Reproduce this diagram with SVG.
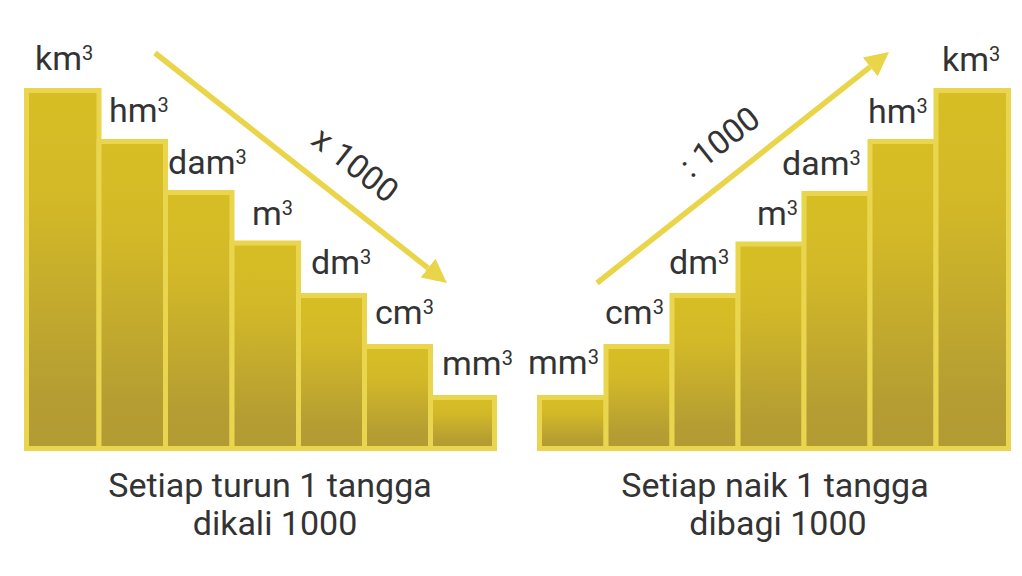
<svg xmlns="http://www.w3.org/2000/svg" width="1022" height="576" viewBox="0 0 1022 576">
<defs>
<linearGradient id="g" x1="0" y1="0" x2="0" y2="1">
<stop offset="0" stop-color="#D8BE24"/>
<stop offset="0.3" stop-color="#D3B927"/>
<stop offset="0.85" stop-color="#B59D33"/>
<stop offset="1" stop-color="#B39B34"/>
</linearGradient>
<marker id="ah" viewBox="0 0 24 24" refX="0" refY="12" markerWidth="24" markerHeight="24" markerUnits="userSpaceOnUse" orient="auto">
<path d="M0,0 L24,12 L0,24 Z" fill="#EAD54A"/>
</marker>
<style>
.bar{fill:url(#g);stroke:#EAD54E;stroke-width:5}
.lbl{font-family:Roboto,"Liberation Sans",sans-serif;font-size:34px;fill:#333333}
.sup{font-size:20px}
.cap{font-family:Roboto,"Liberation Sans",sans-serif;font-size:34px;fill:#333333;text-anchor:middle}
.arr{stroke:#EAD54A;stroke-width:5.5;fill:none;marker-end:url(#ah)}
.rot{font-family:Roboto,"Liberation Sans",sans-serif;font-size:33px;fill:#333333;text-anchor:middle}
</style>
</defs>
<rect width="1022" height="576" fill="#FFFFFF"/>

<g id="left-stairs">
<g id="L-km3"><rect class="bar" x="26.5" y="90.5" width="72.5" height="358"/><text class="lbl" x="35" y="70">km<tspan class="sup" dy="-10">3</tspan></text></g>
<g id="L-hm3"><rect class="bar" x="99" y="141.5" width="66.5" height="307"/><text class="lbl" x="109" y="122">hm<tspan class="sup" dy="-10">3</tspan></text></g>
<g id="L-dam3"><rect class="bar" x="165.5" y="192.5" width="66.5" height="256"/><text class="lbl" x="168" y="174">dam<tspan class="sup" dy="-10">3</tspan></text></g>
<g id="L-m3"><rect class="bar" x="232" y="243" width="66.5" height="205.5"/><text class="lbl" x="252" y="225">m<tspan class="sup" dy="-10">3</tspan></text></g>
<g id="L-dm3"><rect class="bar" x="298.5" y="295.5" width="66" height="153"/><text class="lbl" x="311" y="274">dm<tspan class="sup" dy="-10">3</tspan></text></g>
<g id="L-cm3"><rect class="bar" x="364.5" y="346.5" width="66" height="102"/><text class="lbl" x="375" y="324">cm<tspan class="sup" dy="-10">3</tspan></text></g>
<g id="L-mm3"><rect class="bar" x="430.5" y="397.5" width="64" height="51"/><text class="lbl" x="442" y="375">mm<tspan class="sup" dy="-10">3</tspan></text></g>
</g>

<g id="right-stairs">
<g id="R-mm3"><rect class="bar" x="539.5" y="397.5" width="66.5" height="51"/><text class="lbl" x="528" y="374">mm<tspan class="sup" dy="-10">3</tspan></text></g>
<g id="R-cm3"><rect class="bar" x="606" y="346.5" width="66" height="102"/><text class="lbl" x="605" y="324">cm<tspan class="sup" dy="-10">3</tspan></text></g>
<g id="R-dm3"><rect class="bar" x="672" y="295.5" width="66" height="153"/><text class="lbl" x="669" y="274">dm<tspan class="sup" dy="-10">3</tspan></text></g>
<g id="R-m3"><rect class="bar" x="738" y="244" width="66" height="204.5"/><text class="lbl" x="757" y="225">m<tspan class="sup" dy="-10">3</tspan></text></g>
<g id="R-dam3"><rect class="bar" x="804" y="193.5" width="66" height="255"/><text class="lbl" x="782" y="175">dam<tspan class="sup" dy="-10">3</tspan></text></g>
<g id="R-hm3"><rect class="bar" x="870" y="141.5" width="66" height="307"/><text class="lbl" x="868" y="123">hm<tspan class="sup" dy="-10">3</tspan></text></g>
<g id="R-km3"><rect class="bar" x="936" y="90.5" width="72.5" height="358"/><text class="lbl" x="942" y="71">km<tspan class="sup" dy="-10">3</tspan></text></g>
</g>

<g id="connectors">
<line class="arr" x1="155" y1="53" x2="428.1" y2="268.1"/>
<line class="arr" x1="597" y1="283" x2="870.2" y2="66.9"/>
</g>

<g id="arrow-labels">
<text class="rot" transform="translate(355,165) rotate(38.2)" y="11">x 1000</text>
<text class="rot" transform="translate(720,142) rotate(-38.3)" y="11">: 1000</text>
</g>

<g id="captions">
<text class="cap" x="270" y="497">Setiap turun 1 tangga</text>
<text class="cap" x="275" y="535">dikali 1000</text>
<text class="cap" x="775" y="497">Setiap naik 1 tangga</text>
<text class="cap" x="778" y="535">dibagi 1000</text>
</g>
</svg>
